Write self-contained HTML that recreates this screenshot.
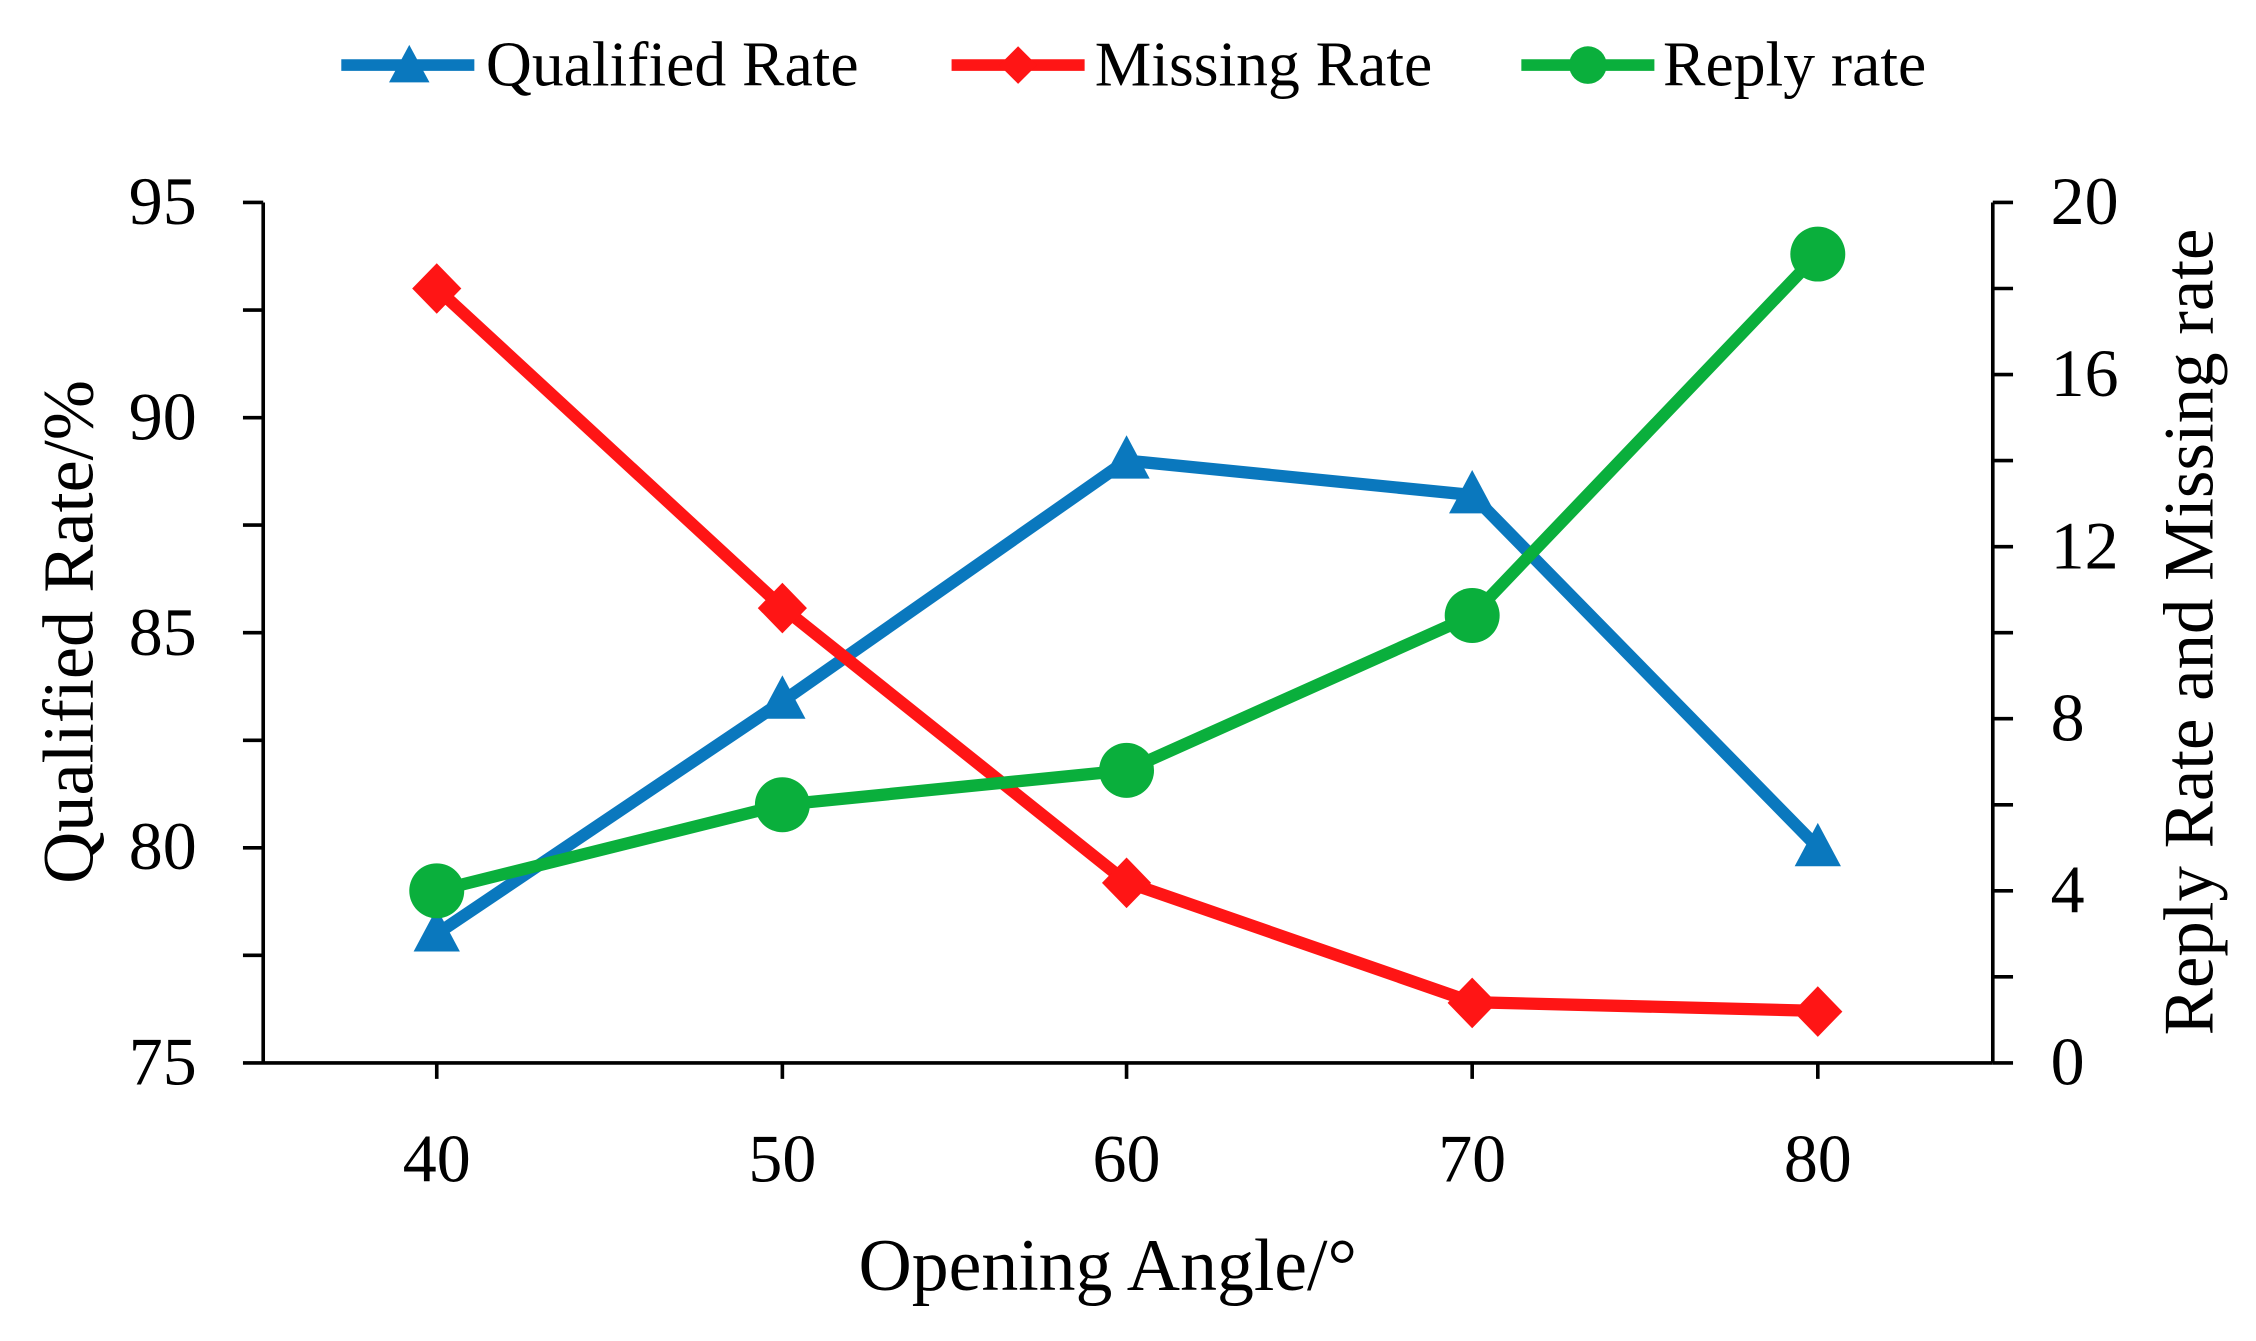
<!DOCTYPE html>
<html><head><meta charset="utf-8"><style>html,body{margin:0;padding:0;background:#fff}svg{display:block}</style></head>
<body>
<svg width="2256" height="1341" viewBox="0 0 1560 927.3" xmlns="http://www.w3.org/2000/svg" font-family="Liberation Serif, serif">
<rect width="1560" height="927.3" fill="#fff"/>
<g stroke="#000" stroke-width="2.5" fill="none">
<path d="M182 140V735M168 735H1378M1378 140V735"/>
<path d="M168 140H182M168 214.4H182M168 288.8H182M168 363.1H182M168 437.5H182M168 511.9H182M168 586.3H182M168 660.6H182"/>
<path d="M1378 140H1392M1378 199.5H1392M1378 259H1392M1378 318.5H1392M1378 378H1392M1378 437.5H1392M1378 497H1392M1378 556.5H1392M1378 616H1392M1378 675.5H1392M1378 735H1392"/>
<path d="M302 735V746M541 735V746M779 735V746M1018 735V746M1257 735V746"/>
</g>
<g font-size="47" text-anchor="end" fill="#000">
<text x="136" y="155">95</text><text x="136" y="304">90</text><text x="136" y="453">85</text><text x="136" y="601">80</text><text x="136" y="750">75</text>
</g>
<g font-size="47" text-anchor="start" fill="#000">
<text x="1418" y="155">20</text><text x="1418" y="274">16</text><text x="1418" y="393">12</text><text x="1418" y="512">8</text><text x="1418" y="631">4</text><text x="1418" y="750">0</text>
</g>
<g font-size="47" text-anchor="middle" fill="#000">
<text x="302" y="817">40</text><text x="541" y="817">50</text><text x="779" y="817">60</text><text x="1018" y="817">70</text><text x="1257" y="817">80</text>
<text x="766" y="892" font-size="51">Opening Angle/°</text>
<text transform="translate(64,437) rotate(-90)" font-size="50">Qualified Rate/%</text>
<text transform="translate(1530,437) rotate(-90)" font-size="49">Reply Rate and Missing rate</text>
</g>
<g fill="none" stroke-width="8.5" stroke-linejoin="round">
<polyline stroke="#0a78be" points="302,645.8 541,485 779,318.5 1018,342.3 1257,586"/>
<polyline stroke="#ff1515" points="302,199.5 541,420 779,610 1018,693 1257,699"/>
<polyline stroke="#0aaf3c" points="302,616 541,556.5 779,532.7 1018,425.6 1257,175.7"/>
</g>
<g fill="#0a78be">
<path d="M302 628l16 30h-32z"/><path d="M541 467l16 30h-32z"/><path d="M779 301l16 30h-32z"/><path d="M1018 325l16 30h-32z"/><path d="M1257 569l16 30h-32z"/>
</g>
<g fill="#ff1515">
<path d="M302 182l17 17.5-17 17.5-17-17.5z"/><path d="M541 403l17 17.5-17 17.5-17-17.5z"/><path d="M779 593l17 17.5-17 17.5-17-17.5z"/><path d="M1018 676l17 17.5-17 17.5-17-17.5z"/><path d="M1257 682l17 17.5-17 17.5-17-17.5z"/>
</g>
<g fill="#0aaf3c">
<circle cx="302" cy="616" r="19"/><circle cx="541" cy="556.5" r="19"/><circle cx="779" cy="532.7" r="19"/><circle cx="1018" cy="425.6" r="19"/><circle cx="1257" cy="175.7" r="19"/>
</g>
<g stroke-width="8">
<line x1="236" y1="45" x2="328" y2="45" stroke="#0a78be"/>
<line x1="658" y1="45" x2="750" y2="45" stroke="#ff1515"/>
<line x1="1052" y1="45" x2="1144" y2="45" stroke="#0aaf3c"/>
</g>
<path d="M283 31l14 26h-28z" fill="#0a78be"/>
<path d="M704 32l13 13-13 13-13-13z" fill="#ff1515"/>
<circle cx="1098" cy="45" r="13" fill="#0aaf3c"/>
<g font-size="44" fill="#000">
<text x="336" y="59">Qualified Rate</text>
<text x="757" y="59">Missing Rate</text>
<text x="1150" y="59">Reply rate</text>
</g>
</svg>
</body></html>
